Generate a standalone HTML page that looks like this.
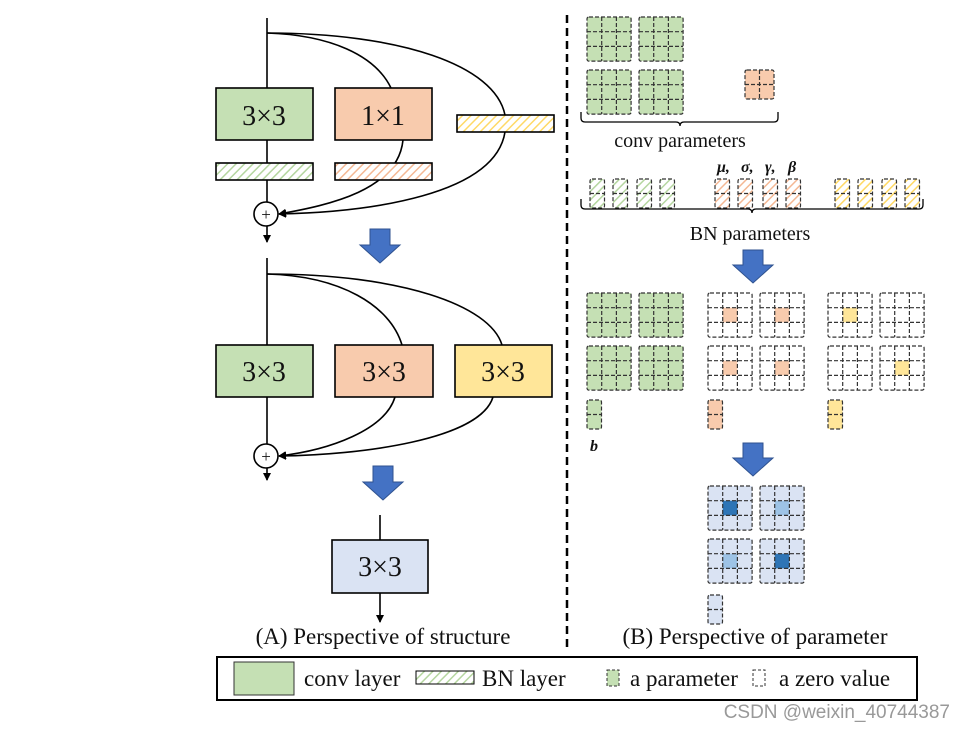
<!DOCTYPE html>
<html><head><meta charset="utf-8"><style>
html,body{margin:0;padding:0;background:#fff;}
svg{display:block;}
text{font-family:"Liberation Serif",serif;fill:#111;}
</style></head><body>
<svg id="s" width="965" height="729" viewBox="0 0 965 729" xmlns="http://www.w3.org/2000/svg">
<defs>
<pattern id="hg" width="6" height="6" patternUnits="userSpaceOnUse" patternTransform="rotate(45)"><rect width="6" height="6" fill="#fff"/><line x1="0" y1="0" x2="0" y2="6" stroke="#b5d6a0" stroke-width="3"/></pattern>
<pattern id="ho" width="6" height="6" patternUnits="userSpaceOnUse" patternTransform="rotate(45)"><rect width="6" height="6" fill="#fff"/><line x1="0" y1="0" x2="0" y2="6" stroke="#f4b894" stroke-width="3"/></pattern>
<pattern id="hy" width="6" height="6" patternUnits="userSpaceOnUse" patternTransform="rotate(45)"><rect width="6" height="6" fill="#fff"/><line x1="0" y1="0" x2="0" y2="6" stroke="#ffd966" stroke-width="3"/></pattern>
<marker id="ar" markerWidth="8" markerHeight="8" refX="7" refY="4" orient="auto" markerUnits="userSpaceOnUse"><path d="M0,0 L8,4 L0,8 z" fill="#000"/></marker>
</defs>

<line x1="567" y1="15" x2="567" y2="650" stroke="#000" stroke-width="2.5" stroke-dasharray="8,5"/>

<g stroke="#000" stroke-width="1.6" fill="none">
<line x1="267" y1="18" x2="267" y2="88"/>
<line x1="267" y1="140" x2="267" y2="163"/>
<line x1="267" y1="180" x2="267" y2="202"/>
<line x1="267" y1="226" x2="267" y2="242" marker-end="url(#ar)"/>
<path d="M267,33 C330,35 375,55 391,88"/>
<path d="M267,33 C400,33 495,65 505,115"/>
<path d="M403,140 C398,190 330,205 279,214" marker-end="url(#ar)"/>
<path d="M505,132 C495,195 370,212 279,214" marker-end="url(#ar)"/>
</g>
<rect x="216" y="88" width="97" height="52" fill="#c5e0b4" stroke="#000" stroke-width="1.6"/>
<rect x="335" y="88" width="97" height="52" fill="#f8cbad" stroke="#000" stroke-width="1.6"/>
<rect x="457" y="115" width="97" height="17" fill="url(#hy)" stroke="#000" stroke-width="1.6"/>
<rect x="216" y="163" width="97" height="17" fill="url(#hg)" stroke="#000" stroke-width="1.6"/>
<rect x="335" y="163" width="97" height="17" fill="url(#ho)" stroke="#000" stroke-width="1.6"/>
<text x="264" y="125" font-size="28" text-anchor="middle">3×3</text>
<text x="383" y="125" font-size="28" text-anchor="middle">1×1</text>
<circle cx="266" cy="214" r="12" fill="#fff" stroke="#000" stroke-width="1.6"/>
<text x="266" y="220" font-size="17" text-anchor="middle">+</text>
<path d="M370,229 h20 v16 h10 l-20,18 l-20,-18 h10 z" fill="#4472c4" stroke="#2f528f" stroke-width="1"/>

<g stroke="#000" stroke-width="1.6" fill="none">
<line x1="267" y1="258" x2="267" y2="345"/>
<line x1="267" y1="397" x2="267" y2="444"/>
<line x1="267" y1="468" x2="267" y2="480" marker-end="url(#ar)"/>
<path d="M267,274 C340,276 390,305 402,345"/>
<path d="M267,274 C400,274 490,305 502,345"/>
<path d="M395,397 C385,430 330,450 279,456" marker-end="url(#ar)"/>
<path d="M493,397 C480,440 360,455 279,456" marker-end="url(#ar)"/>
</g>
<rect x="216" y="345" width="97" height="52" fill="#c5e0b4" stroke="#000" stroke-width="1.6"/>
<rect x="335" y="345" width="98" height="52" fill="#f8cbad" stroke="#000" stroke-width="1.6"/>
<rect x="455" y="345" width="97" height="52" fill="#ffe699" stroke="#000" stroke-width="1.6"/>
<text x="264" y="381" font-size="28" text-anchor="middle">3×3</text>
<text x="384" y="381" font-size="28" text-anchor="middle">3×3</text>
<text x="503" y="381" font-size="28" text-anchor="middle">3×3</text>
<circle cx="266" cy="456" r="12" fill="#fff" stroke="#000" stroke-width="1.6"/>
<text x="266" y="462" font-size="17" text-anchor="middle">+</text>
<path d="M373,466 h20 v16 h10 l-20,18 l-20,-18 h10 z" fill="#4472c4" stroke="#2f528f" stroke-width="1"/>

<line x1="380" y1="515" x2="380" y2="540" stroke="#000" stroke-width="1.6"/>
<rect x="332" y="540" width="96" height="53" fill="#dae3f3" stroke="#000" stroke-width="1.6"/>
<text x="380" y="576" font-size="28" text-anchor="middle">3×3</text>
<line x1="380" y1="593" x2="380" y2="622" stroke="#000" stroke-width="1.6" marker-end="url(#ar)"/>
<text x="383" y="644" font-size="23" text-anchor="middle">(A) Perspective of structure</text>
<text x="755" y="644" font-size="23" text-anchor="middle">(B) Perspective of parameter</text>

<g id="grids"></g>
<g stroke="#000" stroke-width="1.3" fill="none">
<path d="M581,112 v6 q0,4 4,4 h91 q4,0 4,4 q0,-4 4,-4 h90 q4,0 4,-4 v-6"/>
<path d="M581,199 v6 q0,4 4,4 h163 q4,0 4,4 q0,-4 4,-4 h163 q4,0 4,-4 v-6"/>
</g>
<text x="680" y="147" font-size="20" text-anchor="middle">conv parameters</text>
<text x="750" y="240" font-size="20" text-anchor="middle">BN parameters</text>
<text x="717" y="172" font-size="16" font-weight="bold" font-style="italic">μ,</text>
<text x="741" y="172" font-size="16" font-weight="bold" font-style="italic">σ,</text>
<text x="765" y="172" font-size="16" font-weight="bold" font-style="italic">γ,</text>
<text x="788" y="172" font-size="16" font-weight="bold" font-style="italic">β</text>
<text x="590" y="451" font-size="16" font-weight="bold" font-style="italic">b</text>
<path d="M743,250 h20 v15 h10 l-20,18 l-20,-18 h10 z" fill="#4472c4" stroke="#2f528f" stroke-width="1"/>
<path d="M743,443 h20 v15 h10 l-20,18 l-20,-18 h10 z" fill="#4472c4" stroke="#2f528f" stroke-width="1"/>

<rect x="217" y="657" width="700" height="43" fill="none" stroke="#000" stroke-width="2"/>
<rect x="234" y="662" width="60" height="33" fill="#c5e0b4" stroke="#333" stroke-width="1"/>
<text x="304" y="686" font-size="23">conv layer</text>
<rect x="416" y="671" width="58" height="13" fill="url(#hg)" stroke="#000" stroke-width="1"/>
<text x="482" y="686" font-size="23">BN layer</text>
<rect x="607" y="670" width="12" height="16" fill="#c5e0b4" stroke="#333" stroke-width="1" stroke-dasharray="3,2"/>
<text x="630" y="686" font-size="23">a parameter</text>
<rect x="753" y="670" width="12" height="16" fill="#fff" stroke="#333" stroke-width="1" stroke-dasharray="3,2"/>
<text x="779" y="686" font-size="23">a zero value</text>
<text x="950" y="718" font-size="19" text-anchor="end" style="font-family:'Liberation Sans',sans-serif;fill:#999">CSDN @weixin_40744387</text>
</svg>
<script>
var g=document.getElementById('grids'),NS='http://www.w3.org/2000/svg';
function el(t,a){var e=document.createElementNS(NS,t);for(var k in a)e.setAttribute(k,a[k]);g.appendChild(e);return e;}
var D={stroke:'#333','stroke-width':1.2,'stroke-dasharray':'4,2',fill:'none'};
function grid(x,y,cols,rows,cs,fill,cells){
  var w=cols*cs,h=rows*cs;
  el('rect',{x:x,y:y,width:w,height:h,fill:fill});
  if(cells)cells.forEach(function(c){el('rect',{x:x+c[0]*cs,y:y+c[1]*cs,width:cs,height:cs,fill:c[2]});});
  for(var i=1;i<cols;i++)el('line',Object.assign({x1:x+i*cs,y1:y,x2:x+i*cs,y2:y+h},D));
  for(var j=1;j<rows;j++)el('line',Object.assign({x1:x,y1:y+j*cs,x2:x+w,y2:y+j*cs},D));
  el('rect',Object.assign({x:x,y:y,width:w,height:h,rx:2},D));
}
var G='#c5e0b4',O='#f8cbad',Y='#ffe699',B='#dae3f3';
[[587,17],[639,17],[587,70],[639,70]].forEach(function(p){grid(p[0],p[1],3,3,14.7,G);});
grid(745,70,2,2,14.5,O);
[[590,'url(#hg)'],[613,'url(#hg)'],[637,'url(#hg)'],[660,'url(#hg)'],[715,'url(#ho)'],[738,'url(#ho)'],[763,'url(#ho)'],[786,'url(#ho)'],[835,'url(#hy)'],[858,'url(#hy)'],[882,'url(#hy)'],[905,'url(#hy)']].forEach(function(p){grid(p[0],179,1,2,14.5,p[1]);});
[[587,293],[639,293],[587,346],[639,346]].forEach(function(p){grid(p[0],p[1],3,3,14.7,G);});
[[708,293],[760,293],[708,346],[760,346]].forEach(function(p){grid(p[0],p[1],3,3,14.7,'#fff',[[1,1,O]]);});
grid(828,293,3,3,14.7,'#fff',[[1,1,Y]]);
grid(880,293,3,3,14.7,'#fff');
grid(828,346,3,3,14.7,'#fff');
grid(880,346,3,3,14.7,'#fff',[[1,1,Y]]);
grid(587,400,1,2,14.5,G);grid(708,400,1,2,14.5,O);grid(828,400,1,2,14.5,Y);
grid(708,486,3,3,14.7,B,[[1,1,'#2e75b6']]);
grid(760,486,3,3,14.7,B,[[1,1,'#9dc3e6']]);
grid(708,539,3,3,14.7,B,[[1,1,'#9dc3e6']]);
grid(760,539,3,3,14.7,B,[[1,1,'#2e75b6']]);
grid(708,595,1,2,14.5,B);
</script>
</body></html>
